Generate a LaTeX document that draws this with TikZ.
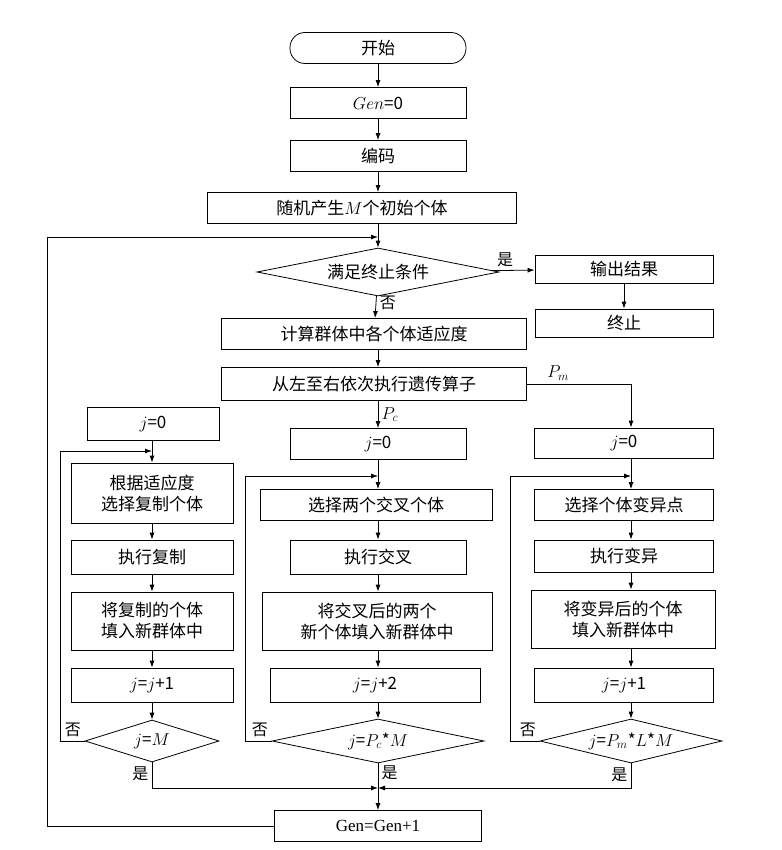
\documentclass[tikz,border=0pt]{standalone}
\usepackage{fontspec}
\newfontfamily\cjk{Noto Sans CJK SC}
\newfontfamily\lat{Liberation Serif}
\usetikzlibrary{positioning,shapes.geometric,arrows.meta}
\tikzset{box/.style={rectangle,draw,thick,minimum height=31pt,inner sep=2pt,font=\cjk\fontsize{17}{21}\selectfont},
	dec/.style={diamond,draw,thick,aspect=4.8,inner sep=1pt,font=\cjk\fontsize{17}{21}\selectfont},
	lbl/.style={font=\cjk\fontsize{16}{18}\selectfont},
	flow/.style={thick,-{Latex[length=7pt,width=5pt]}},
}

\begin{document}
\begin{tikzpicture}[x=1pt,y=-1pt]
	\useasboundingbox (0,0) rectangle (781,850);
	% main column
	\node[box,rounded corners=15pt,minimum width=176pt] (start) at (378,48){开始};
	\node[box,minimum width=176pt] (gen0) at (378,103){$Gen$=0};
	\node[box,minimum width=176pt] (code) at (378,156){编码};
	\node[box,minimum width=309pt] (init) at (362,208){随机产生$M$个初始个体};
	\node[dec,minimum width=242pt,minimum height=48pt] (stop) at (378,272){满足终止条件};
	\node[box,minimum width=178pt,minimum height=28pt] (out) at (624,269){输出结果};
	\node[box,minimum width=178pt,minimum height=28pt] (end) at (624,323){终止};
	\node[box,minimum width=305pt] (fit) at (374,334){计算群体中各个体适应度};
	\node[box,minimum width=305pt,minimum height=33pt] (ops) at (374,384){从左至右依次执行遗传算子};
	% left column
	\node[box,minimum width=132pt,minimum height=33pt] (lj0) at (153,424){$j$=0};
	\node[box,minimum width=162pt,minimum height=60pt,align=center] (lsel) at (152,493){根据适应度\\选择复制个体};
	\node[box,minimum width=162pt,minimum height=34pt] (lrun) at (152,557){执行复制};
	\node[box,minimum width=162pt,minimum height=58pt,align=center] (lput) at (152,621){将复制的个体\\填入新群体中};
	\node[box,minimum width=162pt,minimum height=34pt] (linc) at (152,685){$j$=$j$+1};
	\node[dec,minimum width=134pt,minimum height=42pt] (lchk) at (152,741){$j$=$M$};
	% middle column
	\node[box,minimum width=176pt] (mj0) at (378,444){$j$=0};
	\node[box,minimum width=232pt] (msel) at (376,505){选择两个交叉个体};
	\node[box,minimum width=176pt,minimum height=34pt] (mrun) at (378,557){执行交叉};
	\node[box,minimum width=230pt,minimum height=58pt,align=center] (mput) at (377,621){将交叉后的两个\\新个体填入新群体中};
	\node[box,minimum width=210pt,minimum height=34pt] (minc) at (375,685){$j$=$j$+2};
	\node[dec,minimum width=212pt,minimum height=44pt] (mchk) at (378,741){$j$=$P_c$*$M$};
	% right column
	\node[box,minimum width=179pt,minimum height=30pt] (rj0) at (624,443){$j$=0};
	\node[box,minimum width=179pt] (rsel) at (624,505){选择个体变异点};
	\node[box,minimum width=179pt,minimum height=32pt] (rrun) at (624,556){执行变异};
	\node[box,minimum width=184pt,minimum height=58pt,align=center] (rput) at (623,619){将变异后的个体\\填入新群体中};
	\node[box,minimum width=179pt,minimum height=34pt] (rinc) at (624,685){$j$=$j$+1};
	\node[dec,minimum width=182pt,minimum height=44pt] (rchk) at (631,741){$j$=$P_m$*$L$*$M$};
	\node[box,minimum width=207pt,font=\lat\fontsize{17}{21}\selectfont] (next) at (378,826){Gen=Gen+1};
	% joints
	\coordinate (top) at (378,237);
	\coordinate (ltop) at (152,451);
	\coordinate (mtop) at (378,476);
	\coordinate (rtop) at (631,476);
	\coordinate (join) at (378,788);

	\draw[flow] (start) -- (gen0);
	\draw[flow] (gen0) -- (code);
	\draw[flow] (code) -- (code |- init.north);
	\draw[flow] (init.south -| top) -- (stop);
	\draw[flow] (stop) -- node[lbl,above,pos=0.3]{是} (out);
	\draw[flow] (out) -- (end);
	\draw[flow] (stop) -- node[lbl,right,pos=0.3]{否} (fit);
	\draw[flow] (fit.south -| top) -- (ops.north -| top);
	\draw[flow] (ops.south -| top) -- node[right,font=\fontsize{17}{20}\selectfont]{$P_c$} (mj0);
	\draw[flow] (ops.east) -- node[above,pos=0.3,font=\fontsize{17}{20}\selectfont]{$P_m$} (631,384) -- (rj0.north -| rchk);
	% left loop
	\draw[thick] (lj0.south -| ltop) -- (ltop);
	\draw[flow] (ltop) -- (lsel);
	\draw[flow] (lsel) -- (lrun);
	\draw[flow] (lrun) -- (lput);
	\draw[flow] (lput) -- (linc);
	\draw[flow] (linc) -- (lchk);
	\draw[flow] (lchk.west) -- node[lbl,above left,pos=0]{否} (60,741) -- (60,451) -- (ltop);
	\draw[flow] (lchk.south) -- node[lbl,left,pos=0.45]{是} (152,788) -- (join);
	% middle loop
	\draw[thick] (mj0) -- (mtop);
	\draw[flow] (mtop) -- (msel.north -| mtop);
	\draw[flow] (msel.south -| mtop) -- (mrun);
	\draw[flow] (mrun) -- (mput.north -| mtop);
	\draw[flow] (mput.south -| mtop) -- (minc.north -| mtop);
	\draw[flow] (minc.south -| mtop) -- (mchk);
	\draw[flow] (mchk.west) -- node[lbl,above left,pos=0]{否} (245,741) -- (245,476) -- (mtop);
	\draw[flow] (mchk.south) -- node[lbl,right,pos=0.2]{是} (next);
	% right loop
	\draw[thick] (rj0.south -| rtop) -- (rtop);
	\draw[flow] (rtop) -- (rsel.north -| rtop);
	\draw[flow] (rsel.south -| rtop) -- (rrun.north -| rtop);
	\draw[flow] (rrun.south -| rtop) -- (rput.north -| rtop);
	\draw[flow] (rput.south -| rtop) -- (rinc.north -| rtop);
	\draw[flow] (rinc.south -| rtop) -- (rchk);
	\draw[flow] (rchk.west) -- node[lbl,above left,pos=0]{否} (510,741) -- (510,476) -- (rtop);
	\draw[flow] (rchk.south) -- node[lbl,left,pos=0.45]{是} (631,788) -- (join);
	% back to test
	\draw[flow] (next.west) -- (47,826) -- (47,237) -- (top);
\end{tikzpicture}
\end{document}
